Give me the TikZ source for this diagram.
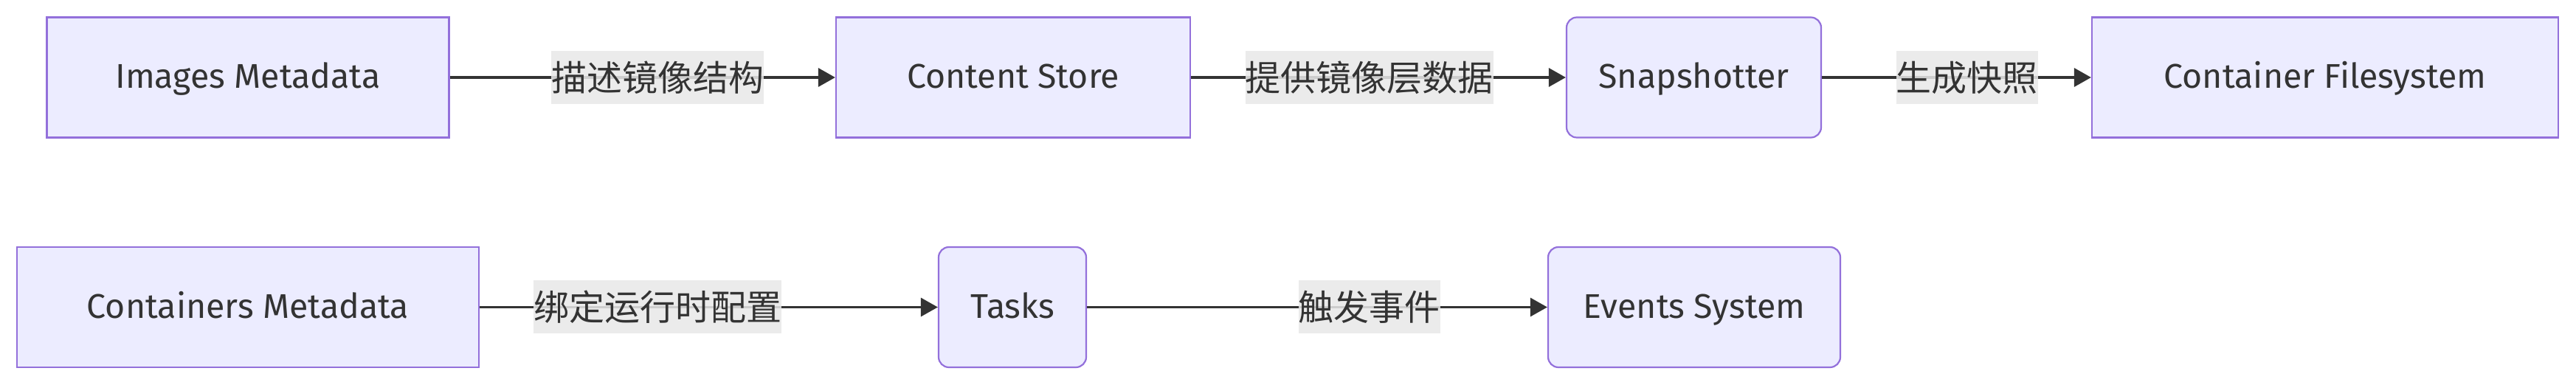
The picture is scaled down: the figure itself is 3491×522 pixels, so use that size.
\documentclass[tikz,border=0pt]{standalone}
\usepackage{fontspec}
\setmainfont{Fira Sans}
\newfontfamily\cjk{Noto Sans CJK SC}
\usetikzlibrary{arrows.meta}
\definecolor{boxfill}{HTML}{ECECFF}
\definecolor{boxline}{HTML}{9370DB}
\definecolor{ink}{HTML}{333333}
\definecolor{lblbg}{HTML}{E8E8E8}
\begin{document}
\begin{tikzpicture}[x=1pt,y=1pt,
  box/.style={draw=boxline, fill=boxfill, line width=2.2pt, text=ink,
    font=\fontsize{46.5}{56}\selectfont, inner sep=0pt, minimum height=163pt,
    text height=40pt, text depth=10pt},
  rbox/.style={box, rounded corners=14pt},
  lbl/.style={fill=lblbg, fill opacity=0.85, text opacity=1, text=ink,
    font=\cjk\fontsize{48}{72}\selectfont, inner xsep=0pt, inner ysep=0pt,
    minimum height=72pt},
  conn/.style={draw=ink, line width=3.3pt, -{Triangle[length=23pt,width=25pt]}}]
\useasboundingbox (0,0) rectangle (3491,522);
% row 1
\node[box,  minimum width=545pt] (im) at (336,417)    {Images Metadata};
\node[box,  minimum width=480pt] (cs) at (1373,417)   {Content Store};
\node[rbox, minimum width=345pt] (sn) at (2295.5,417) {Snapshotter};
\node[box,  minimum width=632pt] (cf) at (3151,417)   {Container Filesystem};
% row 2
\node[box,  minimum width=626pt] (cm) at (336,105.5)  {Containers Metadata};
\node[rbox, minimum width=200pt] (tk) at (1372,105.5) {Tasks};
\node[rbox, minimum width=396pt] (es) at (2296,105.5) {Events System};
% connectors
\draw[conn] (im) -- (cs);
\draw[conn] (cs) -- (sn);
\draw[conn] (sn) -- (cf);
\draw[conn] (cm) -- (tk);
\draw[conn] (tk) -- (es);
% labels
\node[lbl] (l1) at (891,417)    {描述镜像结构};
\node[lbl] (l2) at (1855.5,417) {提供镜像层数据};
\node[lbl] (l3) at (2665.5,417) {生成快照};
\node[lbl] (l4) at (891,105.5)  {绑定运行时配置};
\node[lbl] (l5) at (1855.5,105.5) {触发事件};
\end{tikzpicture}
\end{document}
